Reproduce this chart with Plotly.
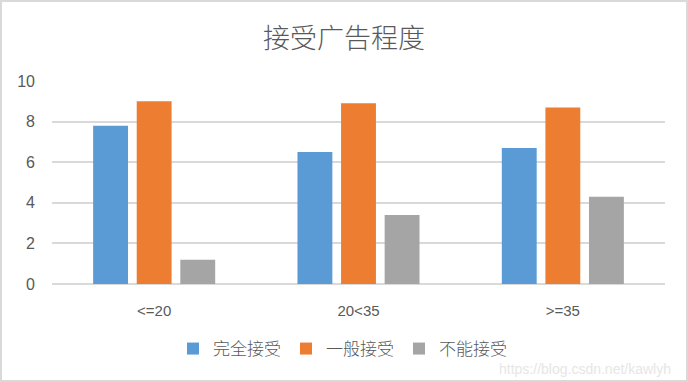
import plotly.graph_objects as go

categories = ["<=20", "20<35", ">=35"]
series_names = ["完全接受", "一般接受", "不能接受"]
full_accept = [7.8, 6.5, 6.7]
normal_accept = [9.0, 8.9, 8.7]
no_accept = [1.2, 3.4, 4.3]
colors = ["#5B9BD5", "#ED7D31", "#A5A5A5"]

W, H = 688, 382
L, R, T, B = 52, 23, 81, 98
pw, ph = W - L - R, H - T - B

fig = go.Figure()
for name, vals, c in zip(series_names, [full_accept, normal_accept, no_accept], colors):
    fig.add_trace(go.Bar(x=categories, y=vals, name=name, marker_color=c, marker_line_width=0))

font_fam = "Noto Sans CJK SC, Liberation Sans, sans-serif"
fig.update_layout(
    width=W, height=H,
    margin=dict(l=L, r=R, t=T, b=B),
    paper_bgcolor="white", plot_bgcolor="white",
    barmode="group", bargap=0.36, bargroupgap=0.2,
    title=dict(text="接受广告程度", x=0.5, xanchor="center", y=1 - 39 / H, yanchor="middle",
               font=dict(family=font_fam, size=27, color="#595959", weight=300)),
    font=dict(family=font_fam, size=15, color="#595959"),
    showlegend=True,
    legend=dict(orientation="h", x=0.5 - 16 / pw, xanchor="center", y=(-(349 - (H - B)) / ph), yanchor="middle",
                font=dict(size=17, color="#595959", weight=300), itemwidth=30, traceorder="normal"),
    xaxis=dict(showgrid=False, showline=False, ticks="", ticklabelstandoff=16,
               tickfont=dict(family="Liberation Sans, Arial", size=15, color="#595959")),
    yaxis=dict(range=[0, 10], dtick=2, showgrid=True, gridcolor="#D9D9D9", gridwidth=1.5,
               zeroline=True, zerolinecolor="#D9D9D9", zerolinewidth=1.5, showline=False,
               tickfont=dict(family="Liberation Sans, Arial", size=16, color="#595959"), ticklabelstandoff=16),
)

# outer frame
fig.add_shape(type="rect", xref="paper", yref="paper",
              x0=(-L + 1) / pw, x1=(pw + R - 1) / pw, y0=(-B + 1) / ph, y1=(ph + T - 1) / ph,
              line=dict(color="#D9D9D9", width=2), fillcolor="rgba(0,0,0,0)", layer="above")

fig.add_annotation(text="https://blog.csdn.net/kawlyh", xref="paper", yref="paper",
                   x=(673 - L) / pw, xanchor="right", y=-(369 - (H - B)) / ph, yanchor="middle",
                   showarrow=False, font=dict(family="Liberation Sans, Arial", size=14, color="#E6E6E6"))

fig.write_html("out.html")
